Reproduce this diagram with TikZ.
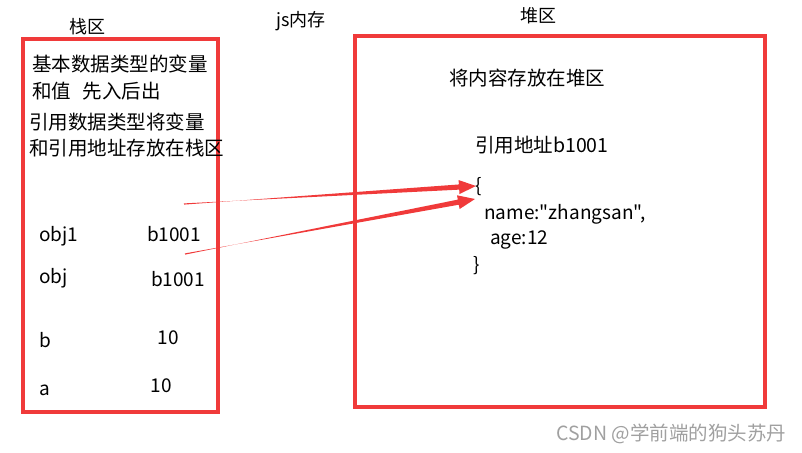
\documentclass[tikz,border=0pt]{standalone}
\usepackage{fontspec}
\setmainfont{Noto Sans CJK SC}
\usetikzlibrary{calc}
\definecolor{boxred}{RGB}{240,58,58}
\definecolor{wm}{RGB}{160,160,160}
\tikzset{
  memtitle/.style={font=\fontsize{18}{20}\selectfont, inner sep=0pt},
  note/.style={font=\fontsize{19.5}{22}\selectfont, inner sep=0pt, anchor=west},
  var/.style={font=\fontsize{19}{22}\selectfont, inner sep=0pt},
  region/.style={draw=boxred, line width=4pt},
  refarrow/.style={fill=boxred, draw=none},
}
\newcommand{\taperarrow}[2]{%
  \coordinate (hb) at ($(#2)!17pt!(#1)$);
  \fill[refarrow] ($(#1)!0.6pt!90:(#2)$) -- ($(hb)!2.6pt!-90:(#2)$) -- ($(hb)!7pt!-90:(#2)$) -- (#2)
     -- ($(hb)!7pt!90:(#2)$) -- ($(hb)!2.6pt!90:(#2)$) -- ($(#1)!0.6pt!-90:(#2)$) -- cycle;%
}
\begin{document}
\begin{tikzpicture}[x=1pt,y=-1pt]
\useasboundingbox (0,0) rectangle (802,452);
% region boxes
\draw[region] (23,39) rectangle (218,412);
\draw[region] (355,36) rectangle (765,407);
% titles
\node[memtitle] (stackT) at (87,27) {栈区};
\node[memtitle] (jsT) at (301,21) {js内存};
\node[memtitle] (heapT) at (538,16) {堆区};
% stack notes
\node[note] (n1) at (32,64) {基本数据类型的变量};
\node[note] (n2) at (32,91) {和值\hspace{0.6em}先入后出};
\node[note] (n3) at (29,122) {引用数据类型将变量};
\node[note] (n4) at (29,148) {和引用地址存放在栈区};
% stack variables
\node[var, anchor=west] (obj1) at (39,236) {obj1};
\node[var] (obj1v) at (174,234) {b1001};
\node[var, anchor=west] (obj) at (39,278) {obj};
\node[var] (objv) at (178,279) {b1001};
\node[var, anchor=west] (b) at (39,340) {b};
\node[var] (bv) at (168,338) {10};
\node[var, anchor=west] (a) at (39,390) {a};
\node[var] (av) at (161,386) {10};
% heap contents
\node[note] (h1) at (449,78) {将内容存放在堆区};
\node[note] (h2) at (475,145) {引用地址b1001};
\node[var, anchor=west] (lb) at (475,187) {\{};
\node[var, anchor=west] (nm) at (484,214) {\addfontfeature{Ligatures=TeXOff}name:"zhangsan",};
\node[var, anchor=west] (ag) at (490,240) {age:12};
\node[var, anchor=west] (rb) at (473,266) {\}};
% arrows
\coordinate (s1) at (184,204);
\coordinate (t1) at (476,186);
\coordinate (s2) at (185,254);
\coordinate (t2) at (475,199);
\taperarrow{s1}{t1}
\taperarrow{s2}{t2}
% watermark
\node[font=\fontsize{19.5}{21}\selectfont, text=wm, inner sep=0pt, anchor=west] (wmk) at (556,434) {CSDN @学前端的狗头苏丹};
\end{tikzpicture}
\end{document}
